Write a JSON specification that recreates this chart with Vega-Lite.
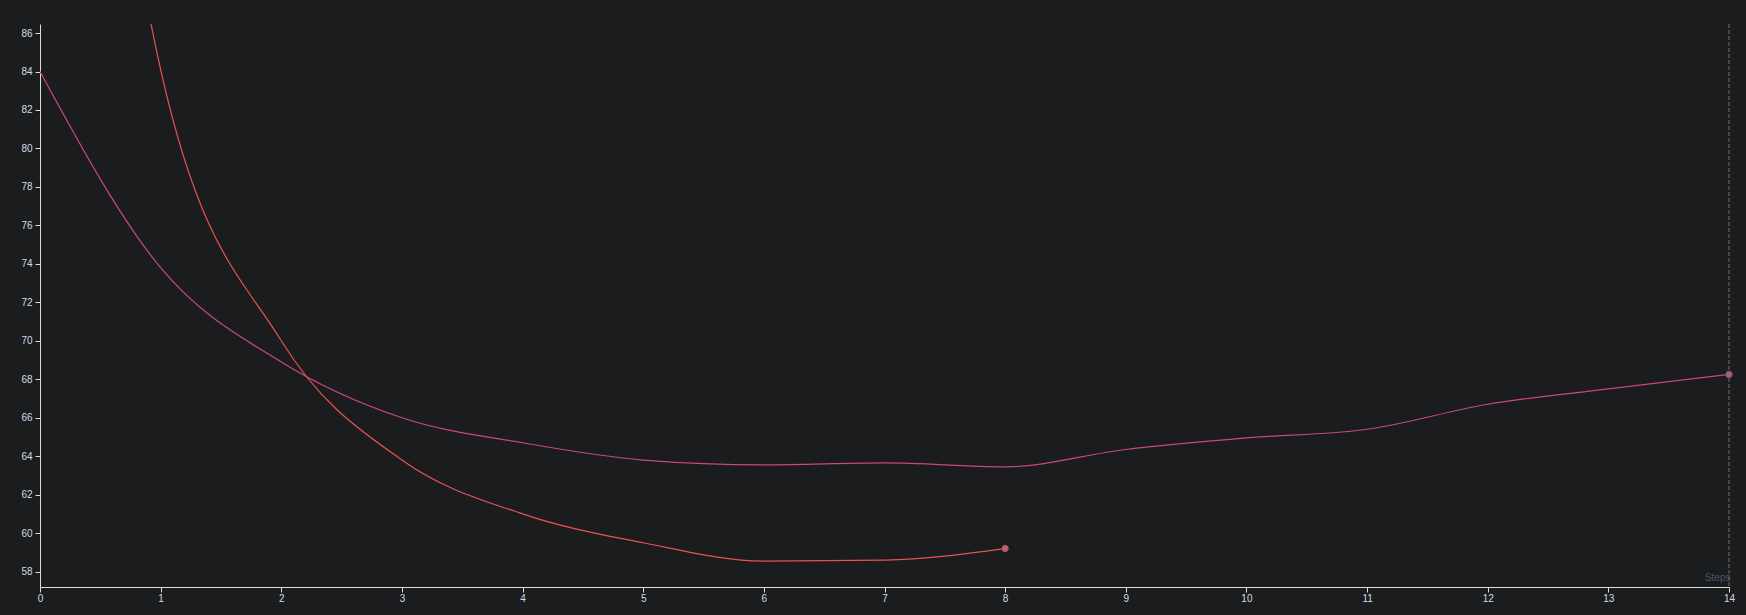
{
  "$schema": "https://vega.github.io/schema/vega-lite/v6.json",
  "width": 1689,
  "height": 563,
  "autosize": {"type": "none"},
  "padding": {"left": 40, "top": 24, "right": 17, "bottom": 28},
  "background": "#1b1c1e",
  "config": {
    "view": {"stroke": null},
    "font": "Liberation Sans",
    "axis": {"labelOverlap": false, "labelBound": false}
  },
  "datasets": {
    "runs": [
      {"run": "a", "step": 0, "value": 84.0},
      {"run": "a", "step": 1, "value": 73.8},
      {"run": "a", "step": 2, "value": 68.9},
      {"run": "a", "step": 3, "value": 66.0},
      {"run": "a", "step": 4, "value": 64.7},
      {"run": "a", "step": 5, "value": 63.8},
      {"run": "a", "step": 6, "value": 63.55},
      {"run": "a", "step": 7, "value": 63.65},
      {"run": "a", "step": 8, "value": 63.45},
      {"run": "a", "step": 9, "value": 64.35},
      {"run": "a", "step": 10, "value": 64.95},
      {"run": "a", "step": 11, "value": 65.4},
      {"run": "a", "step": 12, "value": 66.7},
      {"run": "a", "step": 13, "value": 67.5},
      {"run": "a", "step": 14, "value": 68.25},
      {"run": "b", "step": 0, "value": 126},
      {"run": "b", "step": 1, "value": 84.1},
      {"run": "b", "step": 2, "value": 70.0},
      {"run": "b", "step": 3, "value": 63.8},
      {"run": "b", "step": 4, "value": 61.0},
      {"run": "b", "step": 5, "value": 59.5},
      {"run": "b", "step": 6, "value": 58.55},
      {"run": "b", "step": 7, "value": 58.6},
      {"run": "b", "step": 8, "value": 59.2}
    ],
    "hover": [{"step": 14}]
  },
  "layer": [
    {
      "data": {"name": "hover"},
      "mark": {"type": "rule", "stroke": "#6e6e6e", "strokeDash": [4, 2], "strokeWidth": 1},
      "encoding": {"x": {"field": "step", "type": "quantitative"}}
    },
    {
      "data": {"name": "runs"},
      "mark": {"type": "line", "interpolate": "monotone", "strokeWidth": 1.2, "clip": true},
      "encoding": {
        "x": {
          "field": "step",
          "type": "quantitative",
          "scale": {"domain": [0, 14], "nice": false},
          "axis": {
            "values": [0, 1, 2, 3, 4, 5, 6, 7, 8, 9, 10, 11, 12, 13, 14],
            "format": "d",
            "grid": false,
            "domainColor": "#dcdcdc",
            "tickColor": "#dcdcdc",
            "tickSize": 5,
            "labelColor": "#d4dbe2",
            "labelFontSize": 10,
            "labelPadding": 1,
            "labelFlush": false,
            "labelOverlap": false,
            "title": "Steps",
            "titleColor": "#4a5561",
            "titleFontSize": 10,
            "titleFontWeight": "normal",
            "titleAlign": "right",
            "titleBaseline": "alphabetic",
            "titleX": 1690,
            "titleY": -7
          }
        },
        "y": {
          "field": "value",
          "type": "quantitative",
          "scale": {"domain": [57.2, 86.47], "nice": false, "zero": false},
          "axis": {
            "values": [58, 60, 62, 64, 66, 68, 70, 72, 74, 76, 78, 80, 82, 84, 86],
            "format": "d",
            "grid": false,
            "domainColor": "#dcdcdc",
            "tickColor": "#dcdcdc",
            "tickSize": 5,
            "labelColor": "#d4dbe2",
            "labelFontSize": 10,
            "labelPadding": 3,
            "labelOverlap": false,
            "title": null
          }
        },
        "color": {
          "field": "run",
          "type": "nominal",
          "scale": {"domain": ["a", "b"], "range": ["#c8487f", "#ea5252"]},
          "legend": null
        }
      }
    },
    {
      "data": {"name": "runs"},
      "transform": [
        {"joinaggregate": [{"op": "max", "field": "step", "as": "last"}], "groupby": ["run"]},
        {"filter": "datum.step == datum.last"}
      ],
      "mark": {"type": "circle", "size": 40, "opacity": 1, "stroke": "#5d6f86", "strokeWidth": 1},
      "encoding": {
        "x": {"field": "step", "type": "quantitative"},
        "y": {"field": "value", "type": "quantitative"},
        "color": {
          "field": "run",
          "type": "nominal",
          "scale": {"domain": ["a", "b"], "range": ["#d04a8a", "#f05a6e"]},
          "legend": null
        }
      }
    }
  ]
}
